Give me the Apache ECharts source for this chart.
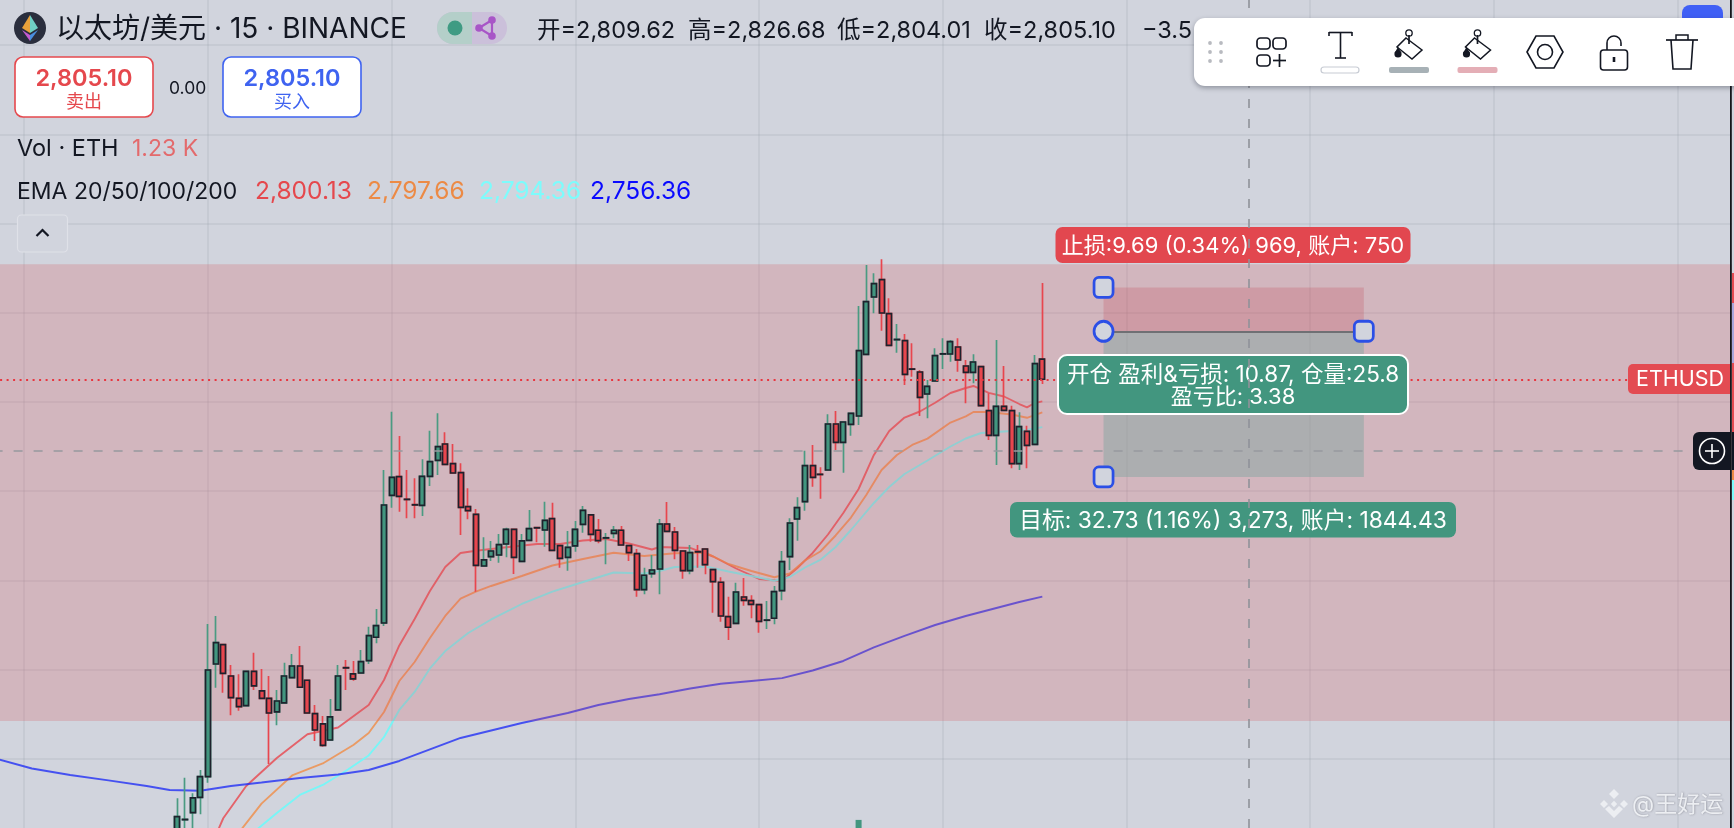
<!DOCTYPE html>
<html><head><meta charset="utf-8">
<style>html,body{margin:0;padding:0;background:#d1d4dd;overflow:hidden}#c{width:1734px;height:828px}</style>
<script src="https://cdn.jsdelivr.net/npm/echarts@6/dist/echarts.min.js"></script>
</head><body><div id="c"></div>
<script>
// Candles, left to right; the last one is the live bar (barsBack 0).
const opens=[2702.92,2706.35,2707.92,2711.37,2715.99,2741.26,2745.59,2738.57,2733.57,2731.91,
2739.62,2735.21,2733.57,2730.50,2732.52,2738.19,2740.81,2737.61,2730.12,2727.81,
2724.22,2730.95,2740.43,2739.02,2739.24,2742.00,2747.25,2750.45,2779.08,2783.25,
2778.19,2776.97,2776.84,2783.34,2786.93,2790.58,2786.17,2784.15,2776.53,2774.82,
2763.23,2765.32,2765.70,2768.16,2771.46,2764.28,2768.99,2771.82,2771.30,2773.84,
2767.78,2765.18,2767.72,2772.58,2774.67,2771.24,2769.51,2770.56,2771.24,2767.78,
2765.99,2757.92,2761.50,2762.56,2772.65,2770.85,2766.59,2762.18,2766.44,2767.04,
2762.40,2759.58,2751.86,2750.38,2756.28,2755.45,2754.55,2751.06,2751.51,2757.69,
2765.32,2773.77,2777.65,2785.72,2783.79,2784.75,2795.07,2790.96,2795.00,2796.86,
2810.69,2823.54,2827.42,2819.80,2813.97,2813.74,2807.40,2806.73,2801.79,2804.71,
2810.76,2810.76,2812.33,2808.07,2806.66,2807.91,2798.05,2792.53,2799.04,2798.05,
2786.17,2793.43,2790.52,2809.62];
const closes=[2707.02,2706.40,2711.22,2715.99,2739.91,2746.04,2739.17,2733.70,2731.69,2739.62,
2736.33,2733.57,2730.27,2732.96,2738.57,2740.81,2736.04,2730.27,2726.46,2723.03,
2729.38,2738.57,2740.38,2737.90,2741.78,2747.60,2749.85,2776.91,2783.12,2778.86,
2778.14,2776.92,2783.34,2786.62,2789.98,2786.03,2784.08,2776.39,2775.63,2763.39,
2764.58,2766.59,2768.01,2771.46,2765.18,2768.84,2771.59,2771.77,2773.48,2766.75,
2764.96,2767.42,2771.46,2775.72,2770.34,2768.90,2769.56,2771.24,2767.94,2766.21,
2757.92,2761.15,2762.33,2772.65,2771.01,2766.75,2762.18,2766.21,2766.39,2763.52,
2759.71,2752.02,2749.49,2757.40,2755.54,2754.64,2750.83,2751.11,2757.47,2764.20,
2772.87,2776.30,2785.72,2783.12,2783.74,2795.07,2790.96,2795.52,2797.47,2811.50,
2822.49,2826.52,2819.95,2812.71,2814.02,2806.21,2807.35,2801.05,2803.52,2810.38,
2810.81,2813.52,2809.42,2806.66,2808.97,2799.17,2792.53,2799.04,2798.14,2786.17,
2794.46,2790.29,2808.59,2805.10];
const lows=[2700.68,2702.92,2704.04,2707.56,2714.65,2735.95,2734.83,2729.76,2730.79,2731.91,
2735.43,2733.57,2718.84,2727.52,2732.52,2738.19,2736.04,2730.27,2724.00,2722.72,
2724.22,2730.95,2735.43,2737.52,2739.24,2741.26,2745.90,2749.78,2776.30,2775.41,
2773.93,2773.93,2774.44,2781.17,2783.63,2786.03,2784.08,2770.18,2773.70,2757.47,
2763.23,2764.35,2763.97,2765.18,2761.44,2764.28,2768.99,2768.54,2767.56,2766.75,
2762.85,2762.18,2766.44,2770.70,2768.68,2768.32,2763.61,2769.44,2767.94,2764.35,
2756.35,2756.89,2760.61,2756.89,2771.01,2764.73,2760.38,2761.37,2762.85,2761.37,
2752.76,2750.74,2746.64,2750.38,2754.33,2751.51,2748.28,2749.11,2750.16,2755.54,
2762.33,2768.90,2775.63,2781.01,2778.32,2784.75,2789.24,2784.15,2792.44,2794.84,
2810.69,2819.89,2815.99,2812.71,2811.05,2803.81,2805.67,2796.86,2796.35,2804.71,
2807.40,2809.04,2806.79,2799.71,2804.19,2799.17,2791.48,2785.88,2798.14,2785.14,
2784.75,2785.14,2790.52,2804.01];
const highs=[2711.15,2715.77,2712.27,2717.49,2750.23,2752.02,2745.59,2741.04,2738.95,2739.62,
2743.79,2740.14,2738.57,2735.43,2741.55,2743.50,2745.30,2737.61,2732.07,2729.60,
2733.41,2741.04,2742.16,2741.93,2744.40,2749.62,2753.59,2784.75,2797.83,2792.38,
2784.75,2782.89,2787.15,2793.57,2797.47,2793.21,2790.58,2786.26,2780.65,2776.01,
2769.67,2768.84,2770.41,2771.82,2771.46,2770.41,2775.79,2771.82,2777.65,2777.42,
2767.78,2771.08,2773.32,2776.68,2774.67,2773.77,2770.63,2772.20,2772.20,2767.78,
2767.04,2762.85,2765.70,2773.77,2777.58,2771.97,2766.59,2767.94,2767.94,2767.04,
2762.40,2760.70,2756.35,2759.49,2760.54,2756.66,2754.55,2755.38,2758.75,2766.59,
2773.93,2778.63,2789.08,2790.36,2785.36,2797.24,2797.98,2795.52,2797.60,2821.52,
2830.72,2828.85,2831.99,2823.25,2817.49,2815.25,2813.16,2807.17,2804.93,2812.04,
2814.28,2813.90,2814.28,2809.42,2810.69,2807.91,2801.95,2813.90,2808.07,2799.17,
2797.69,2794.69,2810.54,2826.68];

// EMA readings: bars back from the live bar, and the value read there.
const ema20Bars=[108,107,104,100,96,92,88,86,84,82,80,78,76,74,70,66,63,60,57,54,51,50,46,43,40,37,34,32,30,28,26,24,22,20,18,16,14,12,10,9,7,5,3,2,1,0];
const ema20=[2702.70,2706.67,2713.91,2720.18,2725.50,2727.02,2732.07,2737.67,2745.41,2751.35,2757.63,2763.01,2766.15,2766.66,2767.42,2768.16,2768.16,2768.95,2769.28,2768.28,2766.93,2767.49,2767.27,2765.36,2762.67,2760.32,2759.87,2762.78,2766.15,2770.29,2775.11,2780.49,2788.12,2793.50,2796.52,2797.87,2799.84,2802.02,2803.14,2803.59,2802.06,2801.23,2799.55,2798.81,2799.78,2800.13];
const ema50Bars=[105,102,98,94,90,88,86,84,82,80,78,76,74,72,68,64,60,56,52,48,44,41,38,35,33,31,29,27,25,23,21,19,17,15,12,10,9,7,4,2,0];
const ema50=[2703.37,2709.94,2716.26,2718.95,2723.10,2725.79,2730.50,2737.45,2741.71,2747.09,2752.02,2755.94,2757.47,2758.75,2760.99,2763.34,2764.80,2766.21,2765.47,2766.08,2766.21,2763.68,2762.11,2760.70,2761.55,2764.46,2766.48,2770.07,2774.10,2779.15,2784.75,2788.12,2790.36,2791.79,2795.40,2796.79,2797.76,2797.76,2797.20,2796.46,2797.66];
const ema100Bars=[103,100,97,94,91,88,86,84,82,80,78,75,72,68,64,60,56,52,50,48,44,41,38,35,33,31,29,27,25,22,20,18,15,12,10,8,5,2,0];
const ema100=[2703.59,2707.85,2711.89,2714.13,2717.27,2720.75,2724.89,2730.95,2734.98,2740.25,2744.17,2748.21,2751.24,2754.71,2757.47,2759.64,2761.77,2761.55,2762.11,2763.01,2763.12,2762.00,2760.99,2759.93,2760.76,2762.89,2764.58,2767.49,2771.30,2777.36,2780.94,2783.86,2786.88,2790.02,2791.82,2793.05,2793.39,2793.72,2794.36];
const ema200Bars=[137,132,127,122,117,114,110,106,102,97,92,88,84,80,76,72,68,62,58,54,50,46,42,38,34,30,26,22,18,14,10,6,3,0];
const ema200=[2720.18,2717.83,2716.37,2715.16,2713.91,2713.01,2712.85,2713.91,2714.69,2715.70,2716.49,2717.49,2719.51,2722.09,2724.67,2726.35,2728.03,2730.27,2732.07,2733.41,2734.47,2735.77,2736.82,2737.45,2738.08,2739.80,2741.93,2744.96,2747.54,2750.00,2752.02,2753.81,2755.16,2756.36];

// Volume: only the tallest bar reaches into the window.
const volumeBars=[24];
const volumes=[3150];

// Levels on the chart
const bandTop=2830.9, bandBottom=2728.5;      // shaded pink price range
const lastPrice=2805.10, crossPrice=2789.01;
const stopPrice=2825.7, entryPrice=2815.85, targetPrice=2783.2;
const toolLeftBack=-8, toolRightBack=-42, crossBack=-27;

const LAST=137, TOTAL=229;
const categories=[]; for(let i=0;i<TOTAL;i++) categories.push('bar '+i);
const idx=k=>LAST-k;
const firstCandle=idx(opens.length-1);
const pairs=(b,v)=>b.map((k,i)=>[idx(k),v[i]]);

const wickData=new Array(TOTAL).fill('-'), bodyData=new Array(TOTAL).fill('-');
opens.forEach((o,i)=>{
  wickData[firstCandle+i]=[o,closes[i],lows[i],highs[i]];
  bodyData[firstCandle+i]=[o,closes[i],Math.min(o,closes[i]),Math.max(o,closes[i])];
});
const volData=new Array(TOTAL).fill('-'); volumeBars.forEach((k,i)=>volData[idx(k)]=volumes[i]);

const GREEN='#42967f',RED='#e8464e',UI='"Inter","Noto Sans CJK SC",sans-serif',BK='#131722',BLUE='#2b4fe6';
const ema=(name,b,v,col)=>({name,type:'line',z:2,data:pairs(b,v),showSymbol:false,silent:true,lineStyle:{color:col,width:1.9},itemStyle:{color:col},animation:false});
const handle=(k,p,sym)=>({coord:[idx(k),p],symbol:sym,symbolSize:[19,20],itemStyle:{color:'#d1d4dd',borderColor:BLUE,borderWidth:2.8}});

const g=[];
const txt=(x,y,s,fill,size,extra={})=>g.push({type:'text',z:extra.z||10,style:{x,y,text:s,fill,font:(extra.w||'400')+' '+size+'px '+UI,textAlign:extra.a||'left',textVerticalAlign:'middle',opacity:extra.o==null?1:extra.o,textShadowColor:extra.sc,textShadowBlur:extra.sb||0,textShadowOffsetX:extra.so||0,textShadowOffsetY:extra.so||0}});
const rect=(x,y,w,h,r,fill,stroke,lw,z,extra)=>g.push(Object.assign({type:'rect',z:z||9,shape:{x,y,width:w,height:h,r},style:{fill,stroke,lineWidth:lw||0}},extra||{}));
const circ=(x,y,r,fill,stroke,lw,z)=>g.push({type:'circle',z:z||10,shape:{cx:x,cy:y,r},style:{fill,stroke,lineWidth:lw||0}});
const line=(a,b,c,d,stroke,lw,z)=>g.push({type:'line',z:z||10,shape:{x1:a,y1:b,x2:c,y2:d},style:{stroke,lineWidth:lw||1.5}});
const poly=(pts,fill,stroke,lw,z,closed=true)=>g.push({type:closed?'polygon':'polyline',z:z||10,shape:{points:pts},style:{fill:closed?fill:'none',stroke,lineWidth:lw||0}});

// header
circ(30,28,16,'#2a2e3d');
poly([[30,15],[22,28],[30,33]],'#e8a13a'); poly([[30,15],[38,28],[30,33]],'#6fd0c4');
poly([[22,30],[30,41],[30,35]],'#c35bd0'); poly([[38,30],[30,41],[30,35]],'#4a8fe0');
txt(56,30,'以太坊/美元 · 15 · BINANCE',BK,28);
g.push({type:'rect',z:9,shape:{x:437,y:12,width:70,height:32,r:16},style:{fill:'#cbc0da'}});
g.push({type:'rect',z:9,shape:{x:437,y:12,width:35,height:32,r:[16,0,0,16]},style:{fill:'#b4cfc9'}});
circ(455,28,7.5,'#3f9b83');
poly([[479,28],[492,20],[492,36]],'none','#a855c7',2.2,10);
circ(479,28,3.8,'#a855c7'); circ(492,20,3.8,'#a855c7'); circ(492,36,3.8,'#a855c7');
[['开=2,809.62',537],['高=2,826.68',688],['低=2,804.01',837],['收=2,805.10',984],['−3.5',1142]].forEach(t=>txt(t[1],31,t[0],BK,23.5));
// buttons
rect(15,57,138,60,8,'#fff','#e5484d',1.6);
txt(84,79,'2,805.10','#e5484d',23.5,{a:'center',w:'600'}); txt(84,103,'卖出','#e5484d',18,{a:'center'});
txt(169,89,'0.00',BK,17.5);
rect(223,57,138,60,8,'#fff','#3f63f0',1.6);
txt(292,79,'2,805.10','#3f63f0',23.5,{a:'center',w:'600'}); txt(292,103,'买入','#3f63f0',18,{a:'center'});
// legends
txt(17,149,'Vol · ETH',BK,23.5); txt(132,149,'1.23 K','#e36a6c',23);
txt(17,192,'EMA 20/50/100/200',BK,23);
[['2,800.13',255,'#e5484d'],['2,797.66',367,'#ec8a45'],['2,794.36',479,'#7dfcfc'],['2,756.36',590,'#0a0aff']].forEach(t=>txt(t[1],192,t[0],t[2],24.5));
rect(17.5,215,50,37,4,'#d1d4dd','#dfe1e8',1.2);
poly([[36.5,236],[42.5,230],[48.5,236]],null,BK,2.2,10,false);

// price tool labels
rect(1055.5,227,355,36,7,'#e2474f');
txt(1233,246,'止损:9.69 (0.34%) 969, 账户: 750','#fff',22,{a:'center'});
rect(1058,355,350,59,9,GREEN,'#fff',2);
txt(1233,375,'开仓 盈利&亏损: 10.87, 仓量:25.8','#fff',22.5,{a:'center'});
txt(1233,397,'盈亏比: 3.38','#fff',22,{a:'center'});
rect(1010,502,446,35.5,7,GREEN);
txt(1233,521,'目标: 32.73 (1.16%) 3,273, 账户: 1844.43','#fff',22.8,{a:'center'});
// right edge
rect(1628,364,103,30,[5,0,0,5],'#e34b52');
txt(1636,380,'ETHUSD','#fff',21.5);
rect(1693,432,38,38,[6,0,0,6],BK);
circ(1712,451,12.5,'none','#fff',1.6,11); line(1712,444,1712,458,'#fff',1.6,11); line(1705,451,1719,451,'#fff',1.6,11);
rect(1730,0,1.8,828,0,'#15171c',null,0,15);
[[0,273,'#d1d4dd'],[273,303,'#e34b52'],[303,350,'#a9a6dc'],[350,363,'#a9a6dc'],[363,420,'#e34b52'],[420,432,'#e34b52'],[432,470,BK],[470,480,'#ec8a45'],[480,500,'#7dfcfc'],[500,828,'#d1d4dd']]
 .forEach(s=>rect(1732,s[0],2,s[1]-s[0],0,s[2],null,0,15));
// toolbar
rect(1682,5,41,30,8,'#3f5ff5',null,0,14);
g.push({type:'rect',z:20,shape:{x:1194,y:18,width:560,height:68,r:11},style:{fill:'#fff',shadowColor:'rgba(20,25,40,.35)',shadowBlur:5,shadowOffsetY:2}});
const Z=21;
[1210,1221].forEach(x=>[43,52,61].forEach(y=>circ(x,y,1.9,'#b8bac0',null,0,Z)));
// add-tool icon
g.push({type:'rect',z:Z,shape:{x:1257,y:38,width:13,height:11,r:3.5},style:{fill:'none',stroke:BK,lineWidth:1.7}});
g.push({type:'rect',z:Z,shape:{x:1273,y:38,width:13,height:11,r:3.5},style:{fill:'none',stroke:BK,lineWidth:1.7}});
g.push({type:'rect',z:Z,shape:{x:1257,y:55,width:13,height:11,r:3.5},style:{fill:'none',stroke:BK,lineWidth:1.7}});
line(1279.5,54,1279.5,67,BK,1.7,Z); line(1273,60.5,1286,60.5,BK,1.7,Z);
// text icon
line(1329,32.5,1352,32.5,BK,1.6,Z); line(1329,32,1329,36,BK,1.6,Z); line(1352,32,1352,36,BK,1.6,Z);
line(1340.5,32,1340.5,58,BK,1.6,Z); line(1335,58,1346,58,BK,1.6,Z);
g.push({type:'rect',z:Z,shape:{x:1321,y:67,width:38,height:6,r:3},style:{fill:'#fff',stroke:'#c8ccd4',lineWidth:1.2}});
// fill buckets
const bucket=(x,col)=>{
  poly([[x-2,38],[x+14,50],[x+4,59],[x-11,47]],'none',BK,1.5,Z);
  circ(x+1,33,3.2,'none',BK,1.3,Z); line(x+1,35,x+1,44,BK,1.7,Z);
  circ(x-10,54,3.6,BK,null,0,Z); poly([[x-10,47],[x-13.4,53],[x-6.6,53]],BK,null,0,Z);
  g.push({type:'rect',z:Z,shape:{x:x-19,y:67,width:40,height:6,r:2},style:{fill:col}});
};
bucket(1408,'#a7b1b6'); bucket(1476.5,'#e4aeb6');
// settings hexagon
poly([[1527,52],[1536,36],[1554,36],[1563,52],[1554,68],[1536,68]],'none',BK,1.6,Z);
circ(1545,52,7.5,'none',BK,1.6,Z);
// unlock
g.push({type:'rect',z:Z,shape:{x:1600.5,y:50,width:27,height:20,r:3},style:{fill:'none',stroke:BK,lineWidth:1.6}});
line(1607,50,1607,43,BK,1.6,Z); line(1621,43,1621,46,BK,1.6,Z);
g.push({type:'arc',z:Z,shape:{cx:1614,cy:43,r:7,startAngle:Math.PI,endAngle:0,clockwise:true},style:{fill:'none',stroke:BK,lineWidth:1.6}});
line(1614,57,1614,62,BK,2.6,Z);
// trash
line(1666,40,1698,40,BK,1.7,Z); poly([[1671,40],[1673,69],[1691,69],[1693,40]],null,BK,1.6,Z,false);
poly([[1676,40],[1676,35],[1688,35],[1688,40]],null,BK,1.5,Z,false);
// watermark
const WM='#eceef2';
[[1614,794,5],[1604,804,4],[1624,804,4],[1614,804,3.2]].forEach(d=>poly([[d[0],d[1]-d[2]],[d[0]+d[2],d[1]],[d[0],d[1]+d[2]],[d[0]-d[2],d[1]]],WM,null,0,16));
poly([[1605,809],[1614,818],[1623,809],[1619,806],[1614,811],[1609,806]],WM,null,0,16);
txt(1632,805,'@王好运',WM,23,{z:16,sc:'rgba(60,60,70,.45)',sb:2,so:.5});

const option={
  animation:false,backgroundColor:'#d1d4dd',
  grid:{left:-6.4,width:1745.3,top:-44,height:892,containLabel:false,outerBoundsMode:'none'},
  xAxis:{type:'category',data:categories,boundaryGap:false,axisLine:{show:false},axisTick:{show:false},axisLabel:{show:false},
    splitLine:{show:true,interval:i=>i%24===4,lineStyle:{color:'rgba(150,152,165,.17)',width:2}}},
  yAxis:[{type:'value',min:2700,max:2900,interval:20,axisLine:{show:false},axisTick:{show:false},axisLabel:{show:false},
      splitLine:{show:true,lineStyle:{color:'rgba(150,152,165,.17)',width:2}}},
    {type:'value',min:0,max:100000,axisLine:{show:false},axisTick:{show:false},axisLabel:{show:false},splitLine:{show:false}}],
  graphic:{elements:g},
  series:[
    {name:'Volume',type:'bar',yAxisIndex:1,z:1,data:volData,barWidth:6,itemStyle:{color:GREEN},silent:true},
    ema('EMA 20',ema20Bars,ema20,'rgba(232,70,78,.8)'),
    ema('EMA 50',ema50Bars,ema50,'rgba(240,140,70,.8)'),
    ema('EMA 100',ema100Bars,ema100,'rgba(110,250,250,.9)'),
    ema('EMA 200',ema200Bars,ema200,'rgba(34,48,245,.8)'),
    {name:'band',type:'line',z:3,data:[],silent:true,
      markArea:{silent:true,z:3,itemStyle:{color:'rgba(217,92,101,.25)'},data:[[{xAxis:0,yAxis:bandTop},{xAxis:TOTAL-1,yAxis:bandBottom}]]}},
    {name:'Wicks',type:'candlestick',z:4,data:wickData,barWidth:5.5,silent:true,
      itemStyle:{color:GREEN,color0:RED,borderColor:'#4a9b82',borderColor0:'#e8464e',borderWidth:1.7}},
    {name:'Bodies',type:'candlestick',z:5,data:bodyData,barWidth:5.5,silent:true,
      itemStyle:{color:GREEN,color0:RED,borderColor:'#1e222d',borderColor0:'#1e222d',borderWidth:1.7}},
    {name:'tool',type:'line',z:6,data:[],silent:true,
      markArea:{silent:true,z:6,data:[
        [{xAxis:idx(toolLeftBack),yAxis:stopPrice,itemStyle:{color:'rgba(191,52,66,.2)'}},{xAxis:idx(toolRightBack),yAxis:entryPrice}],
        [{xAxis:idx(toolLeftBack),yAxis:entryPrice,itemStyle:{color:'rgba(133,166,161,.5)'}},{xAxis:idx(toolRightBack),yAxis:targetPrice}]
      ]},
      markLine:{silent:true,z:6,symbol:'none',label:{show:false},data:[
        [{coord:[idx(toolLeftBack),entryPrice],lineStyle:{color:'#6f7074',width:2,type:'solid'}},{coord:[idx(toolRightBack),entryPrice]}],
        [{coord:[0,lastPrice],lineStyle:{color:'#e8363f',width:2,type:[2,4.5]}},{coord:[TOTAL-1,lastPrice]}],
        [{coord:[0,crossPrice],lineStyle:{color:'#96999f',width:1.6,type:[9,11]}},{coord:[TOTAL-1,crossPrice]}]
      ]},
      markPoint:{silent:true,z:8,label:{show:false},data:[
        handle(toolLeftBack,stopPrice,'roundRect'),handle(toolLeftBack,entryPrice,'circle'),
        handle(toolRightBack,entryPrice,'roundRect'),handle(toolLeftBack,targetPrice,'roundRect')
      ]}},
    {name:'crosshair',type:'line',z:12,data:[],silent:true,
      markLine:{silent:true,z:12,symbol:'none',label:{show:false},lineStyle:{color:'#8f9299',width:1.6,type:[9,11]},data:[{xAxis:idx(crossBack)}]}}
  ]
};
const chart=echarts.init(document.getElementById('c'));
chart.setOption(option);
</script></body></html>
